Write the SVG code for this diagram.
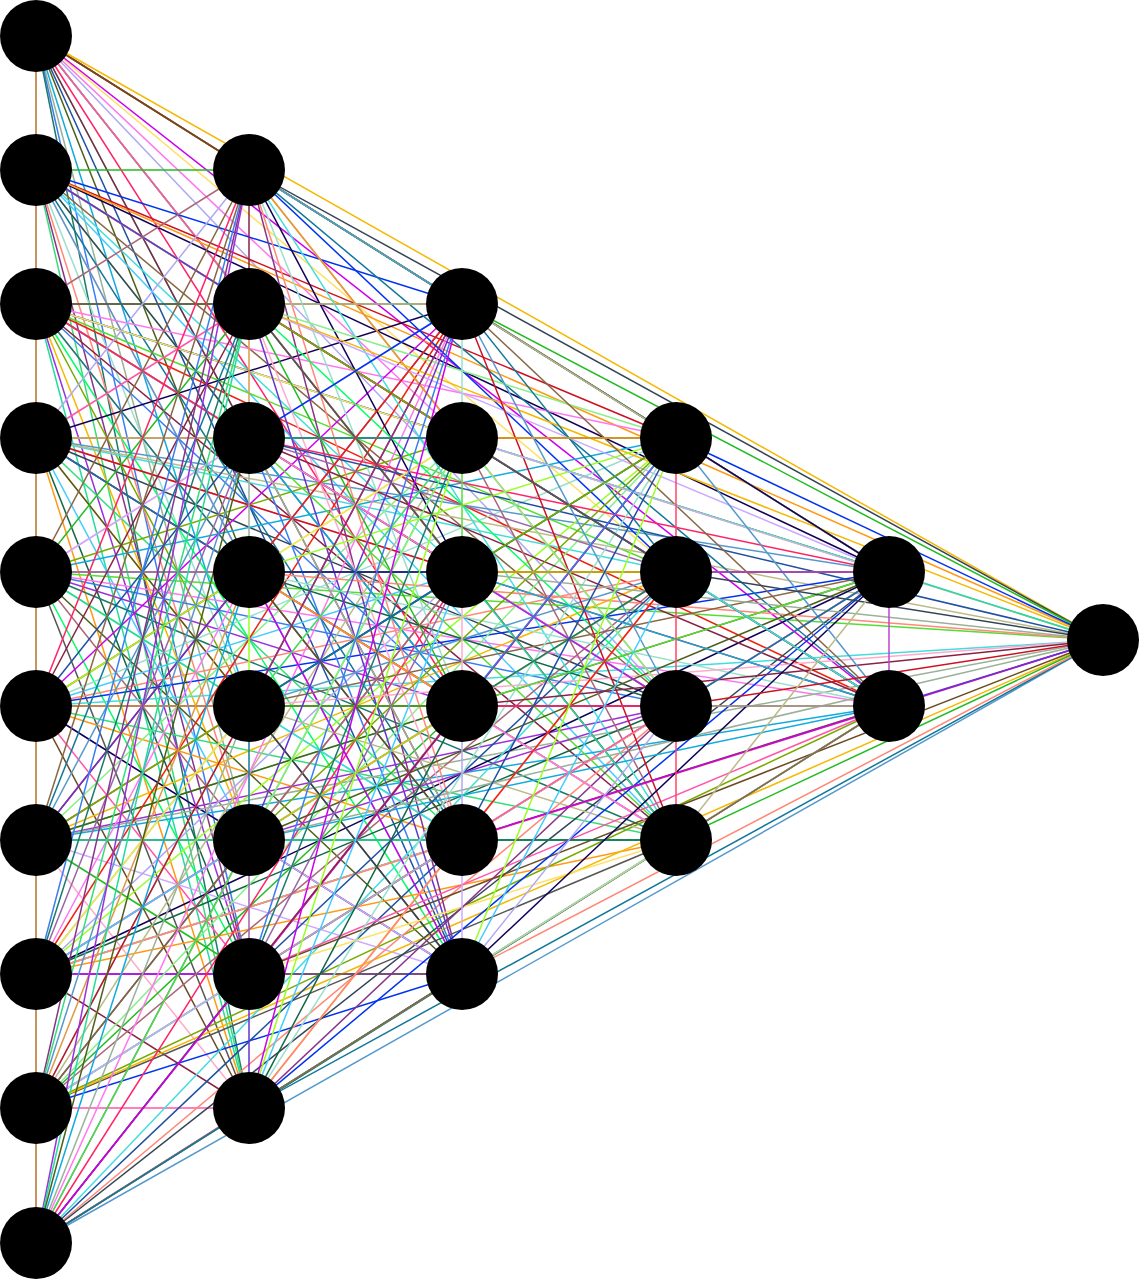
<svg xmlns="http://www.w3.org/2000/svg" width="1140" height="1280" viewBox="0 0 1140 1280">
<style>
path{stroke-width:1.5;fill:none}
circle{fill:#000}
.c0{stroke:#f5b800}.c1{stroke:#9b30d9}.c2{stroke:#22dd99}.c3{stroke:#4d5e1a}.c4{stroke:#11aadd}.c5{stroke:#99b199}.c6{stroke:#3b7df0}.c7{stroke:#1a7a6a}.c8{stroke:#9966aa}.c9{stroke:#ff77ee}
.c10{stroke:#55dd33}.c11{stroke:#ff2266}.c12{stroke:#882244}.c13{stroke:#1e4fa0}.c14{stroke:#ee2211}.c15{stroke:#ffe066}.c16{stroke:#b0a8f0}.c17{stroke:#ff55aa}.c18{stroke:#6b4a22}.c19{stroke:#cc00ee}
.c20{stroke:#99ff22}.c21{stroke:#44ccff}.c22{stroke:#116644}.c23{stroke:#ff9911}.c24{stroke:#110055}.c25{stroke:#99e0cc}.c26{stroke:#ff8877}.c27{stroke:#883388}.c28{stroke:#33dd77}.c29{stroke:#0033ee}
.c30{stroke:#dd9944}.c31{stroke:#44dddd}.c32{stroke:#334455}.c33{stroke:#117799}.c34{stroke:#5599cc}.c35{stroke:#cc1122}.c36{stroke:#bbbb88}.c37{stroke:#886644}.c38{stroke:#22bb22}.c39{stroke:#ffaacc}
.c40{stroke:#6633cc}.c41{stroke:#88ee88}.c42{stroke:#aa6677}.c43{stroke:#00ff66}.c44{stroke:#555555}.c45{stroke:#ccaaff}.c46{stroke:#77aa00}
.v1{stroke:#b5702a}.v4{stroke:#ff4466}.v5{stroke:#bb44cc}
</style>
<g id="connectors">
<path class="c20" d="M36 36L249 170"/><path class="c1" d="M36 36L249 304"/><path class="c2" d="M36 36L249 438"/><path class="c3" d="M36 36L249 572"/><path class="c4" d="M36 36L249 706"/><path class="c5" d="M36 36L249 840"/><path class="c6" d="M36 36L249 974"/><path class="c7" d="M36 36L249 1108"/><path class="c8" d="M36 36L462 304"/><path class="c9" d="M36 36L462 438"/><path class="c10" d="M36 36L462 572"/><path class="c11" d="M36 36L462 706"/><path class="c12" d="M36 36L462 840"/><path class="c13" d="M36 36L462 974"/><path class="c14" d="M36 36L676 438"/><path class="c15" d="M36 36L676 572"/><path class="c16" d="M36 36L676 706"/><path class="c17" d="M36 36L676 840"/><path class="c18" d="M36 36L889 572"/><path class="c19" d="M36 36L889 706"/><path class="c0" d="M36 36L1103 640"/>
<path class="c38" d="M36 170L249 170"/><path class="c22" d="M36 170L249 304"/><path class="c41" d="M36 170L249 438"/><path class="c39" d="M36 170L249 572"/><path class="c25" d="M36 170L249 706"/><path class="c26" d="M36 170L249 840"/><path class="c27" d="M36 170L249 974"/><path class="c28" d="M36 170L249 1108"/><path class="c29" d="M36 170L462 304"/><path class="c30" d="M36 170L462 438"/><path class="c31" d="M36 170L462 572"/><path class="c32" d="M36 170L462 706"/><path class="c33" d="M36 170L462 840"/><path class="c34" d="M36 170L462 974"/><path class="c35" d="M36 170L676 438"/><path class="c36" d="M36 170L676 572"/><path class="c37" d="M36 170L676 706"/><path class="c21" d="M36 170L676 840"/><path class="c24" d="M36 170L889 572"/><path class="c40" d="M36 170L889 706"/><path class="c23" d="M36 170L1103 640"/>
<path class="c42" d="M36 304L249 170"/><path class="c8" d="M36 304L249 304"/><path class="c44" d="M36 304L249 438"/><path class="c45" d="M36 304L249 572"/><path class="c46" d="M36 304L249 706"/><path class="c0" d="M36 304L249 840"/><path class="c1" d="M36 304L249 974"/><path class="c2" d="M36 304L249 1108"/><path class="c3" d="M36 304L462 304"/><path class="c4" d="M36 304L462 438"/><path class="c5" d="M36 304L462 572"/><path class="c6" d="M36 304L462 706"/><path class="c7" d="M36 304L462 840"/><path class="c43" d="M36 304L462 974"/><path class="c9" d="M36 304L676 438"/><path class="c10" d="M36 304L676 572"/><path class="c11" d="M36 304L676 706"/><path class="c12" d="M36 304L676 840"/><path class="c13" d="M36 304L889 572"/><path class="c14" d="M36 304L889 706"/><path class="c15" d="M36 304L1103 640"/>
<path class="c16" d="M36 438L249 170"/><path class="c17" d="M36 438L249 304"/><path class="c29" d="M36 438L249 438"/><path class="c19" d="M36 438L249 572"/><path class="c20" d="M36 438L249 706"/><path class="c21" d="M36 438L249 840"/><path class="c22" d="M36 438L249 974"/><path class="c23" d="M36 438L249 1108"/><path class="c24" d="M36 438L462 304"/><path class="c25" d="M36 438L462 438"/><path class="c26" d="M36 438L462 572"/><path class="c27" d="M36 438L462 706"/><path class="c28" d="M36 438L462 840"/><path class="c18" d="M36 438L462 974"/><path class="c30" d="M36 438L676 438"/><path class="c31" d="M36 438L676 572"/><path class="c32" d="M36 438L676 706"/><path class="c33" d="M36 438L676 840"/><path class="c34" d="M36 438L889 572"/><path class="c35" d="M36 438L889 706"/><path class="c36" d="M36 438L1103 640"/>
<path class="c37" d="M36 572L249 170"/><path class="c38" d="M36 572L249 304"/><path class="c39" d="M36 572L249 438"/><path class="c40" d="M36 572L249 572"/><path class="c41" d="M36 572L249 706"/><path class="c42" d="M36 572L249 840"/><path class="c43" d="M36 572L249 974"/><path class="c44" d="M36 572L249 1108"/><path class="c45" d="M36 572L462 304"/><path class="c46" d="M36 572L462 438"/><path class="c0" d="M36 572L462 572"/><path class="c1" d="M36 572L462 706"/><path class="c2" d="M36 572L462 840"/><path class="c3" d="M36 572L462 974"/><path class="c4" d="M36 572L676 438"/><path class="c5" d="M36 572L676 572"/><path class="c6" d="M36 572L676 706"/><path class="c7" d="M36 572L676 840"/><path class="c8" d="M36 572L889 572"/><path class="c9" d="M36 572L889 706"/><path class="c10" d="M36 572L1103 640"/>
<path class="c11" d="M36 706L249 170"/><path class="c12" d="M36 706L249 304"/><path class="c13" d="M36 706L249 438"/><path class="c14" d="M36 706L249 572"/><path class="c15" d="M36 706L249 706"/><path class="c16" d="M36 706L249 840"/><path class="c17" d="M36 706L249 974"/><path class="c18" d="M36 706L249 1108"/><path class="c19" d="M36 706L462 304"/><path class="c20" d="M36 706L462 438"/><path class="c21" d="M36 706L462 572"/><path class="c22" d="M36 706L462 706"/><path class="c23" d="M36 706L462 840"/><path class="c24" d="M36 706L462 974"/><path class="c25" d="M36 706L676 438"/><path class="c26" d="M36 706L676 572"/><path class="c27" d="M36 706L676 706"/><path class="c28" d="M36 706L676 840"/><path class="c29" d="M36 706L889 572"/><path class="c30" d="M36 706L889 706"/><path class="c31" d="M36 706L1103 640"/>
<path class="c37" d="M36 840L249 170"/><path class="c33" d="M36 840L249 304"/><path class="c34" d="M36 840L249 438"/><path class="c35" d="M36 840L249 572"/><path class="c36" d="M36 840L249 706"/><path class="c32" d="M36 840L249 840"/><path class="c38" d="M36 840L249 974"/><path class="c39" d="M36 840L249 1108"/><path class="c40" d="M36 840L462 304"/><path class="c41" d="M36 840L462 438"/><path class="c42" d="M36 840L462 572"/><path class="c43" d="M36 840L462 706"/><path class="c44" d="M36 840L462 840"/><path class="c45" d="M36 840L462 974"/><path class="c46" d="M36 840L676 438"/><path class="c0" d="M36 840L676 572"/><path class="c1" d="M36 840L676 706"/><path class="c2" d="M36 840L676 840"/><path class="c3" d="M36 840L889 572"/><path class="c4" d="M36 840L889 706"/><path class="c5" d="M36 840L1103 640"/>
<path class="c6" d="M36 974L249 170"/><path class="c7" d="M36 974L249 304"/><path class="c8" d="M36 974L249 438"/><path class="c9" d="M36 974L249 572"/><path class="c10" d="M36 974L249 706"/><path class="c11" d="M36 974L249 840"/><path class="c13" d="M36 974L249 974"/><path class="c12" d="M36 974L249 1108"/><path class="c14" d="M36 974L462 304"/><path class="c15" d="M36 974L462 438"/><path class="c16" d="M36 974L462 572"/><path class="c17" d="M36 974L462 706"/><path class="c18" d="M36 974L462 840"/><path class="c19" d="M36 974L462 974"/><path class="c20" d="M36 974L676 438"/><path class="c21" d="M36 974L676 572"/><path class="c22" d="M36 974L676 706"/><path class="c23" d="M36 974L676 840"/><path class="c24" d="M36 974L889 572"/><path class="c25" d="M36 974L889 706"/><path class="c26" d="M36 974L1103 640"/>
<path class="c27" d="M36 1108L249 170"/><path class="c28" d="M36 1108L249 304"/><path class="c34" d="M36 1108L249 438"/><path class="c30" d="M36 1108L249 572"/><path class="c31" d="M36 1108L249 706"/><path class="c32" d="M36 1108L249 840"/><path class="c33" d="M36 1108L249 974"/><path class="c17" d="M36 1108L249 1108"/><path class="c35" d="M36 1108L462 304"/><path class="c36" d="M36 1108L462 438"/><path class="c37" d="M36 1108L462 572"/><path class="c38" d="M36 1108L462 706"/><path class="c39" d="M36 1108L462 840"/><path class="c29" d="M36 1108L462 974"/><path class="c41" d="M36 1108L676 438"/><path class="c42" d="M36 1108L676 572"/><path class="c43" d="M36 1108L676 706"/><path class="c44" d="M36 1108L676 840"/><path class="c45" d="M36 1108L889 572"/><path class="c46" d="M36 1108L889 706"/><path class="c0" d="M36 1108L1103 640"/>
<path class="c1" d="M36 1243L249 170"/><path class="c2" d="M36 1243L249 304"/><path class="c3" d="M36 1243L249 438"/><path class="c4" d="M36 1243L249 572"/><path class="c5" d="M36 1243L249 706"/><path class="c6" d="M36 1243L249 840"/><path class="c7" d="M36 1243L249 974"/><path class="c8" d="M36 1243L249 1108"/><path class="c9" d="M36 1243L462 304"/><path class="c10" d="M36 1243L462 438"/><path class="c11" d="M36 1243L462 572"/><path class="c12" d="M36 1243L462 706"/><path class="c13" d="M36 1243L462 840"/><path class="c14" d="M36 1243L462 974"/><path class="c19" d="M36 1243L676 438"/><path class="c31" d="M36 1243L676 572"/><path class="c26" d="M36 1243L676 706"/><path class="c30" d="M36 1243L676 840"/><path class="c32" d="M36 1243L889 572"/><path class="c33" d="M36 1243L889 706"/><path class="c34" d="M36 1243L1103 640"/>
<path class="c22" d="M249 170L462 304"/><path class="c23" d="M249 170L462 438"/><path class="c24" d="M249 170L462 572"/><path class="c25" d="M249 170L462 706"/><path class="c26" d="M249 170L462 840"/><path class="c27" d="M249 170L462 974"/><path class="c28" d="M249 170L676 438"/><path class="c29" d="M249 170L676 572"/><path class="c30" d="M249 170L676 706"/><path class="c31" d="M249 170L676 840"/><path class="c34" d="M249 170L889 572"/><path class="c33" d="M249 170L889 706"/><path class="c32" d="M249 170L1103 640"/>
<path class="c36" d="M249 304L462 304"/><path class="c35" d="M249 304L462 438"/><path class="c37" d="M249 304L462 572"/><path class="c38" d="M249 304L462 706"/><path class="c39" d="M249 304L462 840"/><path class="c40" d="M249 304L462 974"/><path class="c41" d="M249 304L676 438"/><path class="c42" d="M249 304L676 572"/><path class="c43" d="M249 304L676 706"/><path class="c44" d="M249 304L676 840"/><path class="c45" d="M249 304L889 572"/><path class="c46" d="M249 304L889 706"/><path class="c0" d="M249 304L1103 640"/>
<path class="c29" d="M249 438L462 304"/><path class="c21" d="M249 438L462 438"/><path class="c3" d="M249 438L462 572"/><path class="c4" d="M249 438L462 706"/><path class="c5" d="M249 438L462 840"/><path class="c6" d="M249 438L462 974"/><path class="c7" d="M249 438L676 438"/><path class="c8" d="M249 438L676 572"/><path class="c9" d="M249 438L676 706"/><path class="c10" d="M249 438L676 840"/><path class="c11" d="M249 438L889 572"/><path class="c12" d="M249 438L889 706"/><path class="c13" d="M249 438L1103 640"/>
<path class="c14" d="M249 572L462 304"/><path class="c15" d="M249 572L462 438"/><path class="c16" d="M249 572L462 572"/><path class="c17" d="M249 572L462 706"/><path class="c18" d="M249 572L462 840"/><path class="c19" d="M249 572L462 974"/><path class="c20" d="M249 572L676 438"/><path class="c21" d="M249 572L676 572"/><path class="c22" d="M249 572L676 706"/><path class="c23" d="M249 572L676 840"/><path class="c24" d="M249 572L889 572"/><path class="c25" d="M249 572L889 706"/><path class="c26" d="M249 572L1103 640"/>
<path class="c27" d="M249 706L462 304"/><path class="c28" d="M249 706L462 438"/><path class="c29" d="M249 706L462 572"/><path class="c30" d="M249 706L462 706"/><path class="c31" d="M249 706L462 840"/><path class="c32" d="M249 706L462 974"/><path class="c33" d="M249 706L676 438"/><path class="c34" d="M249 706L676 572"/><path class="c35" d="M249 706L676 706"/><path class="c36" d="M249 706L676 840"/><path class="c37" d="M249 706L889 572"/><path class="c38" d="M249 706L889 706"/><path class="c39" d="M249 706L1103 640"/>
<path class="c40" d="M249 840L462 304"/><path class="c41" d="M249 840L462 438"/><path class="c42" d="M249 840L462 572"/><path class="c43" d="M249 840L462 706"/><path class="c44" d="M249 840L462 840"/><path class="c45" d="M249 840L462 974"/><path class="c46" d="M249 840L676 438"/><path class="c0" d="M249 840L676 572"/><path class="c1" d="M249 840L676 706"/><path class="c2" d="M249 840L676 840"/><path class="c3" d="M249 840L889 572"/><path class="c4" d="M249 840L889 706"/><path class="c5" d="M249 840L1103 640"/>
<path class="c6" d="M249 974L462 304"/><path class="c7" d="M249 974L462 438"/><path class="c8" d="M249 974L462 572"/><path class="c9" d="M249 974L462 706"/><path class="c10" d="M249 974L462 840"/><path class="c44" d="M249 974L462 974"/><path class="c12" d="M249 974L676 438"/><path class="c13" d="M249 974L676 572"/><path class="c14" d="M249 974L676 706"/><path class="c15" d="M249 974L676 840"/><path class="c16" d="M249 974L889 572"/><path class="c17" d="M249 974L889 706"/><path class="c18" d="M249 974L1103 640"/>
<path class="c19" d="M249 1108L462 304"/><path class="c20" d="M249 1108L462 438"/><path class="c21" d="M249 1108L462 572"/><path class="c22" d="M249 1108L462 706"/><path class="c23" d="M249 1108L462 840"/><path class="c24" d="M249 1108L462 974"/><path class="c25" d="M249 1108L676 438"/><path class="c26" d="M249 1108L676 572"/><path class="c27" d="M249 1108L676 706"/><path class="c28" d="M249 1108L676 840"/><path class="c29" d="M249 1108L889 572"/><path class="c37" d="M249 1108L889 706"/><path class="c33" d="M249 1108L1103 640"/>
<path class="c32" d="M462 304L676 438"/><path class="c33" d="M462 304L676 572"/><path class="c34" d="M462 304L676 706"/><path class="c35" d="M462 304L676 840"/><path class="c36" d="M462 304L889 572"/><path class="c37" d="M462 304L889 706"/><path class="c38" d="M462 304L1103 640"/>
<path class="c23" d="M462 438L676 438"/><path class="c40" d="M462 438L676 572"/><path class="c41" d="M462 438L676 706"/><path class="c42" d="M462 438L676 840"/><path class="c43" d="M462 438L889 572"/><path class="c44" d="M462 438L889 706"/><path class="c45" d="M462 438L1103 640"/>
<path class="c46" d="M462 572L676 438"/><path class="c3" d="M462 572L676 572"/><path class="c1" d="M462 572L676 706"/><path class="c2" d="M462 572L676 840"/><path class="c0" d="M462 572L889 572"/><path class="c4" d="M462 572L889 706"/><path class="c5" d="M462 572L1103 640"/>
<path class="c6" d="M462 706L676 438"/><path class="c7" d="M462 706L676 572"/><path class="c27" d="M462 706L676 706"/><path class="c9" d="M462 706L676 840"/><path class="c10" d="M462 706L889 572"/><path class="c11" d="M462 706L889 706"/><path class="c12" d="M462 706L1103 640"/>
<path class="c13" d="M462 840L676 438"/><path class="c14" d="M462 840L676 572"/><path class="c15" d="M462 840L676 706"/><path class="c22" d="M462 840L676 840"/><path class="c17" d="M462 840L889 572"/><path class="c18" d="M462 840L889 706"/><path class="c19" d="M462 840L1103 640"/>
<path class="c20" d="M462 974L676 438"/><path class="c21" d="M462 974L676 572"/><path class="c16" d="M462 974L676 706"/><path class="c23" d="M462 974L676 840"/><path class="c24" d="M462 974L889 572"/><path class="c25" d="M462 974L889 706"/><path class="c26" d="M462 974L1103 640"/>
<path class="c24" d="M676 438L889 572"/><path class="c34" d="M676 438L889 706"/><path class="c29" d="M676 438L1103 640"/>
<path class="c1" d="M676 572L889 572"/><path class="c31" d="M676 572L889 706"/><path class="c32" d="M676 572L1103 640"/>
<path class="c33" d="M676 706L889 572"/><path class="c5" d="M676 706L889 706"/><path class="c35" d="M676 706L1103 640"/>
<path class="c36" d="M676 840L889 572"/><path class="c37" d="M676 840L889 706"/><path class="c38" d="M676 840L1103 640"/>
<path class="c2" d="M889 572L1103 640"/><path class="c40" d="M889 706L1103 640"/>
<path class="c12" d="M249 170L249 304"/><path class="c30" d="M249 304L249 438"/><path class="c5" d="M249 438L249 572"/><path class="c20" d="M249 572L249 706"/><path class="c33" d="M249 706L249 840"/><path class="c8" d="M249 840L249 974"/><path class="c40" d="M249 974L249 1108"/>
<path class="c25" d="M462 304L462 438"/><path class="c10" d="M462 438L462 572"/><path class="c39" d="M462 572L462 706"/><path class="c16" d="M462 706L462 840"/><path class="c45" d="M462 840L462 974"/>
<path class="v1" d="M36 36L36 1243"/><path class="v4" d="M676 438L676 840"/><path class="v5" d="M889 572L889 706"/>
</g>
<g id="layer1">
<circle id="n0" cx="36" cy="36" r="36"/><circle id="n1" cx="36" cy="170" r="36"/><circle id="n2" cx="36" cy="304" r="36"/><circle id="n3" cx="36" cy="438" r="36"/><circle id="n4" cx="36" cy="572" r="36"/><circle id="n5" cx="36" cy="706" r="36"/><circle id="n6" cx="36" cy="840" r="36"/><circle id="n7" cx="36" cy="974" r="36"/><circle id="n8" cx="36" cy="1108" r="36"/><circle id="n9" cx="36" cy="1243" r="36"/>
</g>
<g id="layer2">
<circle id="n10" cx="249" cy="170" r="36"/><circle id="n11" cx="249" cy="304" r="36"/><circle id="n12" cx="249" cy="438" r="36"/><circle id="n13" cx="249" cy="572" r="36"/><circle id="n14" cx="249" cy="706" r="36"/><circle id="n15" cx="249" cy="840" r="36"/><circle id="n16" cx="249" cy="974" r="36"/><circle id="n17" cx="249" cy="1108" r="36"/>
</g>
<g id="layer3">
<circle id="n18" cx="462" cy="304" r="36"/><circle id="n19" cx="462" cy="438" r="36"/><circle id="n20" cx="462" cy="572" r="36"/><circle id="n21" cx="462" cy="706" r="36"/><circle id="n22" cx="462" cy="840" r="36"/><circle id="n23" cx="462" cy="974" r="36"/>
</g>
<g id="layer4">
<circle id="n24" cx="676" cy="438" r="36"/><circle id="n25" cx="676" cy="572" r="36"/><circle id="n26" cx="676" cy="706" r="36"/><circle id="n27" cx="676" cy="840" r="36"/>
</g>
<g id="layer5">
<circle id="n28" cx="889" cy="572" r="36"/><circle id="n29" cx="889" cy="706" r="36"/>
</g>
<g id="output">
<circle id="n30" cx="1103" cy="640" r="36"/>
</g>
</svg>
